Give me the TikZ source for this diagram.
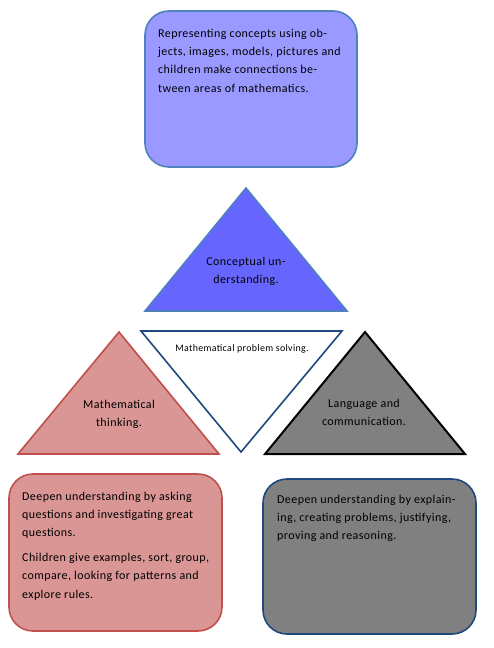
\documentclass[tikz,border=0pt]{standalone}
\usepackage{fontspec}
\setmainfont{Carlito}[LetterSpace=3.5]
\definecolor{topfill}{HTML}{9999FF}
\definecolor{topline}{HTML}{4F81BD}
\definecolor{trifill}{HTML}{6666FF}
\definecolor{darkblue}{HTML}{1F497D}
\definecolor{redfill}{HTML}{D99694}
\definecolor{redline}{HTML}{C0504D}
\definecolor{greyfill}{HTML}{808080}
\newcommand\firstline{\rule{0pt}{10pt}}
\tikzset{
  roundbox/.style={draw, line width=1.6pt, rounded corners=24pt, inner sep=0pt},
  tri/.style={line width=1.6pt, line join=miter},
  txt/.style={inner sep=0pt, align=left, anchor=north west, font=\fontsize{12}{18.3}\selectfont},
  ctxt/.style={inner sep=0pt, align=center, anchor=north, font=\fontsize{12}{18.3}\selectfont},
  stxt/.style={inner sep=0pt, align=center, anchor=north, font=\fontsize{9.9}{12}\selectfont},
}
\begin{document}
\begin{tikzpicture}[x=1pt,y=-1pt]
\useasboundingbox (0,0) rectangle (494,648);
% boxes
\node[roundbox, fill=topfill, draw=topline, minimum width=212pt, minimum height=156pt] (topbox) at (251,89) {};
\node[roundbox, fill=redfill, draw=redline, minimum width=213pt, minimum height=157pt] (leftbox) at (115.5,552.5) {};
\node[roundbox, fill=greyfill, draw=darkblue, minimum width=213pt, minimum height=155pt] (rightbox) at (369.5,556.5) {};
% triangles
\coordinate (ta) at (246,188); \coordinate (tr) at (347,311); \coordinate (tl) at (145,311);
\filldraw[tri, fill=trifill, draw=topline] (ta) -- (tr) -- (tl) -- cycle;
\coordinate (ia) at (141,331); \coordinate (ib) at (342,331); \coordinate (ic) at (241,452);
\filldraw[tri, fill=white, draw=darkblue] (ia) -- (ib) -- (ic) -- cycle;
\coordinate (la) at (119,332); \coordinate (lr) at (219,454); \coordinate (ll) at (18,454);
\filldraw[tri, fill=redfill, draw=redline] (la) -- (lr) -- (ll) -- cycle;
\coordinate (ra) at (365,332); \coordinate (rr) at (465,454); \coordinate (rl) at (265,454);
\filldraw[tri, fill=greyfill, draw=black, line width=2pt] (ra) -- (rr) -- (rl) -- cycle;
% texts
\node[txt] (toptext) at (158,27) {\firstline Representing concepts using ob-\\jects, images, models, pictures and\\children make connections be-\\tween areas of mathematics.};
\node[ctxt] (concept) at (246,255) {\firstline Conceptual un-\\derstanding.};
\node[stxt] (solving) at (242,343) {\rule{0pt}{8pt}Mathematical problem solving.};
\node[ctxt] (thinking) at (119,398) {\firstline Mathematical\\thinking.};
\node[ctxt] (language) at (364,397) {\firstline Language and\\communication.};
\node[txt] (lefttext) at (22,490) {\firstline Deepen understanding by asking\\questions and investigating great\\questions.\\[6.5pt]Children give examples, sort, group,\\compare, looking for patterns and\\explore rules.};
\node[txt] (righttext) at (277,493) {\firstline Deepen understanding by explain-\\ing, creating problems, justifying,\\proving and reasoning.};
\end{tikzpicture}
\end{document}
